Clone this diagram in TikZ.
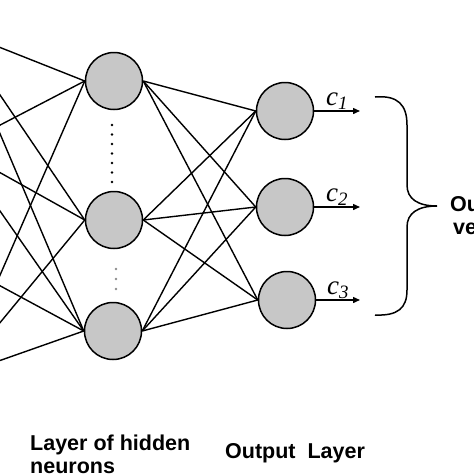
\documentclass[tikz,border=0pt]{standalone}
\usepackage{fontspec}
\setmainfont{Liberation Serif}
\newfontfamily\labfont{Liberation Sans}
\usetikzlibrary{arrows.meta}

\begin{document}
\begin{tikzpicture}[
  x=1pt, y=-1pt,
  neuron/.style={circle, draw, fill=black!22, line width=1.5pt,
                 minimum size=57pt, inner sep=0pt},
  link/.style={line width=1.4pt},
  outarr/.style={-{Triangle[length=7pt, width=6pt]}, line width=1.4pt},
  clab/.style={font=\fontsize{27}{28}\selectfont\itshape, inner sep=1pt},
  lab/.style={font=\labfont\bfseries\fontsize{21.5}{23}\selectfont,
              align=left, inner sep=0pt}
]
\useasboundingbox (0,0) rectangle (474,474);
\clip (0,0) rectangle (474,474);

% input side (off the left edge)
\coordinate (in1) at (-44,30);
\coordinate (in2) at (-44,148);
\coordinate (in3) at (-44,262);
\coordinate (in4) at (-44,376);

% hidden layer
\node[neuron] (h1) at (114,81) {};
\node[neuron] (h2) at (114,220) {};
\node[neuron] (h3) at (113,331) {};

% output layer
\node[neuron] (o1) at (285,111) {};
\node[neuron] (o2) at (285,207) {};
\node[neuron] (o3) at (287,300) {};

\foreach \i in {1,2,4}
  \foreach \h in {h1,h2,h3}
    \draw[link] (in\i) -- (\h.west);
\draw[link] (in3) -- (h3.west);

\foreach \h in {h1,h2,h3}
  \foreach \o in {o1,o2,o3}
    \draw[link] (\h.east) -- (\o.west);

% dots between hidden neurons
\foreach \y in {125,134.5,144,153.5,163,172.5,182}
  \fill (112,\y) circle (1.4pt);
\foreach \y in {269,279,289}
  \fill[black!45] (116,\y) circle (1.4pt);

% outputs
\coordinate (e1) at (360,111);
\coordinate (e2) at (360,207);
\coordinate (e3) at (360,300);
\draw[outarr] (o1.east) -- (e1) node[clab, midway, above] {c\textsubscript{1}};
\draw[outarr] (o2.east) -- (e2) node[clab, midway, above] {c\textsubscript{2}};
\draw[outarr] (o3.east) -- (e3) node[clab, midway, above] {c\textsubscript{3}};

% brace and vector label
\coordinate (tip) at (437,206);
\draw[line width=1.5pt] (375,97) .. controls (398,95) and (407,105) .. (407,125)
  -- (407,185) .. controls (407,199) and (418,206) .. (tip)
  .. controls (418,206) and (407,213) .. (407,227)
  -- (407,290) .. controls (407,308) and (398,316) .. (375,315);
\node[lab, align=center, anchor=west] (vec) at (450,216) {Output\\vector};

% layer names
\node[lab, anchor=base west] (hidlab) at (30,473) {Layer of hidden\\neurons};
\node[lab, anchor=base west] (outlab) at (225,458) {Output\ \ Layer};
\end{tikzpicture}
\end{document}
